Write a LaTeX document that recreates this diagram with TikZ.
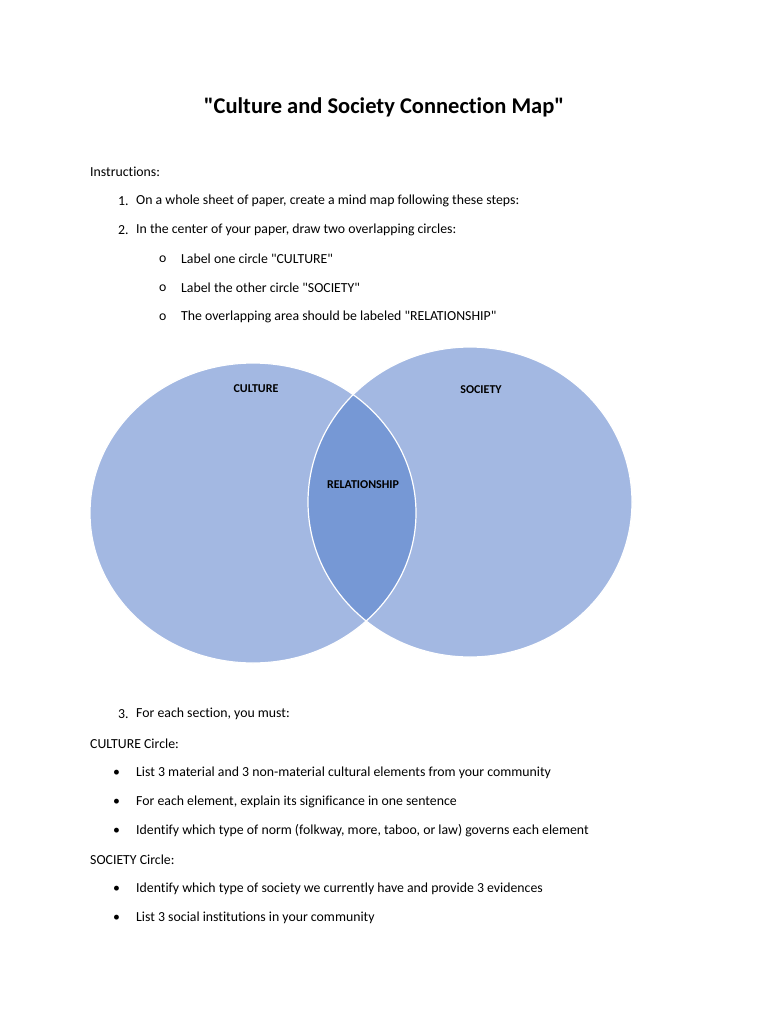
\documentclass[tikz,border=0pt]{standalone}
\usepackage{fontspec}
\setmainfont{Carlito}[Ligatures=NoCommon]
\definecolor{circ}{HTML}{A3B8E2}
\definecolor{ovl}{HTML}{7698D5}
\newcommand{\q}{\textquotedbl}
\begin{document}
\begin{tikzpicture}[x=1pt,y=-1pt,
  body/.style={anchor=west,inner sep=0pt,font=\fontsize{13.8}{16}\selectfont},
  lab/.style={inner sep=0pt,font=\fontsize{12}{14}\selectfont\bfseries}]
\useasboundingbox[fill=white] (0,0) rectangle (768,1024);
\node[inner sep=0pt,font=\fontsize{22.5}{26}\selectfont\bfseries] (title) at (384,107) {\q Culture and Society Connection Map\q};
\node[body] (ins) at (90,172) {Instructions:};
\node[body] (n1) at (118,201) {1.};
\node[body] (t1) at (136,201) {On a whole sheet of paper, create a mind map following these steps:};
\node[body] (n2) at (118,230) {2.};
\node[body] (t2) at (136,230) {In the center of your paper, draw two overlapping circles:};
\foreach \y/\t [count=\i] in {259/Label one circle \q CULTURE\q,288/Label the other circle \q SOCIETY\q,317/The overlapping area should be labeled \q RELATIONSHIP\q}{
  \node[body] (o\i) at (159,\y) {o};
  \node[body] (ot\i) at (181,\y) {\t};
}
\fill[circ] (253,513) ellipse [x radius=163, y radius=150];
\fill[circ] (470,502) ellipse [x radius=162, y radius=155];
\begin{scope}
\clip (253,513) ellipse [x radius=163, y radius=150];
\fill[ovl] (470,502) ellipse [x radius=162, y radius=155];
\end{scope}
\draw[white,line width=1.2pt] (253,513) ellipse [x radius=163, y radius=150];
\draw[white,line width=1.2pt] (470,502) ellipse [x radius=162, y radius=155];
\node[lab] (cul) at (256,389) {CULTURE};
\node[lab] (soc) at (481,390) {SOCIETY};
\node[lab] (rel) at (363,485) {RELATIONSHIP};
\node[body] (n3) at (118,714) {3.};
\node[body] (t3) at (136,714) {For each section, you must:};
\node[body] (cc) at (90,744) {CULTURE Circle:};
\foreach \y/\t [count=\i] in {773/List 3 material and 3 non-material cultural elements from your community,802/{For each element, explain its significance in one sentence},831/{Identify which type of norm (folkway, more, taboo, or law) governs each element}}{
  \node[body] (b\i) at (113,\y) {\textbullet};
  \node[body] (bt\i) at (136,\y) {\t};
}
\node[body] (sc) at (90,860) {SOCIETY Circle:};
\foreach \y/\t [count=\i] in {889/Identify which type of society we currently have and provide 3 evidences,918/List 3 social institutions in your community}{
  \node[body] (s\i) at (113,\y) {\textbullet};
  \node[body] (st\i) at (136,\y) {\t};
}
\end{tikzpicture}
\end{document}
